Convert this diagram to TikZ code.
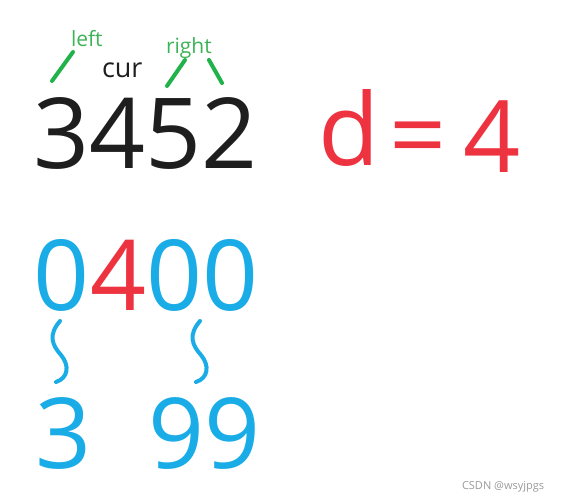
\documentclass[tikz,border=0pt]{standalone}
\usepackage{fontspec}
\setmainfont{Open Sans}
\definecolor{ink}{HTML}{1E1E1E}
\definecolor{cblue}{HTML}{1AACE6}
\definecolor{cred}{HTML}{EE3340}
\definecolor{cgreen}{HTML}{22B24C}
\definecolor{tgreen}{HTML}{3DB357}
\definecolor{wm}{HTML}{9A9A9A}
\tikzset{
  txt/.style={inner sep=0pt, outer sep=0pt, anchor=base west},
  big/.style={txt, font=\fontsize{98}{98}\selectfont},
  lbl/.style={txt, font=\fontsize{21}{21}\selectfont, text=tgreen},
  tick/.style={cgreen, line width=4pt, line cap=round},
  squig/.style={cblue, line width=4pt, line cap=round},
}
\begin{document}
\begin{tikzpicture}[x=1pt,y=-1pt]
\useasboundingbox (0,0) rectangle (571,501);
\node[big, text=ink] (num) at (33,168) {3452};
\node[txt, font=\fontsize{27}{27}\selectfont, text=ink] (cur) at (102,77) {cur};
\node[lbl] (left) at (71,46) {left};
\node[lbl] (right) at (166,53) {right};
\coordinate (l1) at (52,81); \coordinate (l2) at (73,52);
\coordinate (r1) at (167,86); \coordinate (r2) at (185,60);
\coordinate (r3) at (209,60); \coordinate (r4) at (222,83);
\draw[tick] (l1) -- (l2);
\draw[tick] (r1) -- (r2);
\draw[tick] (r3) -- (r4);
\node[txt, font=\fontsize{100}{100}\selectfont, text=cred] (d) at (318,165) {d};
\node[txt, font=\fontsize{100}{100}\selectfont, text=cred] (eq) at (389,170) {=};
\node[txt, font=\fontsize{100}{100}\selectfont, text=cred] (four) at (463,172) {4};
\node[big] (zero) at (34,310) {\textcolor{cblue}{0}\textcolor{cred}{4}\textcolor{cblue}{00}};
\draw[squig] (60,321) .. controls (48,335) and (52,345) .. (61,355) .. controls (70,366) and (68,378) .. (56,382);
\draw[squig] (200,321) .. controls (188,335) and (192,345) .. (201,355) .. controls (210,366) and (208,378) .. (196,382);
\node[big, text=cblue] (three) at (35,468) {3};
\node[big, text=cblue] (nines) at (148,468) {99};
\node[txt, font=\fontsize{11}{11}\selectfont, text=wm] (mark) at (462,489) {CSDN @wsyjpgs};
\end{tikzpicture}
\end{document}
